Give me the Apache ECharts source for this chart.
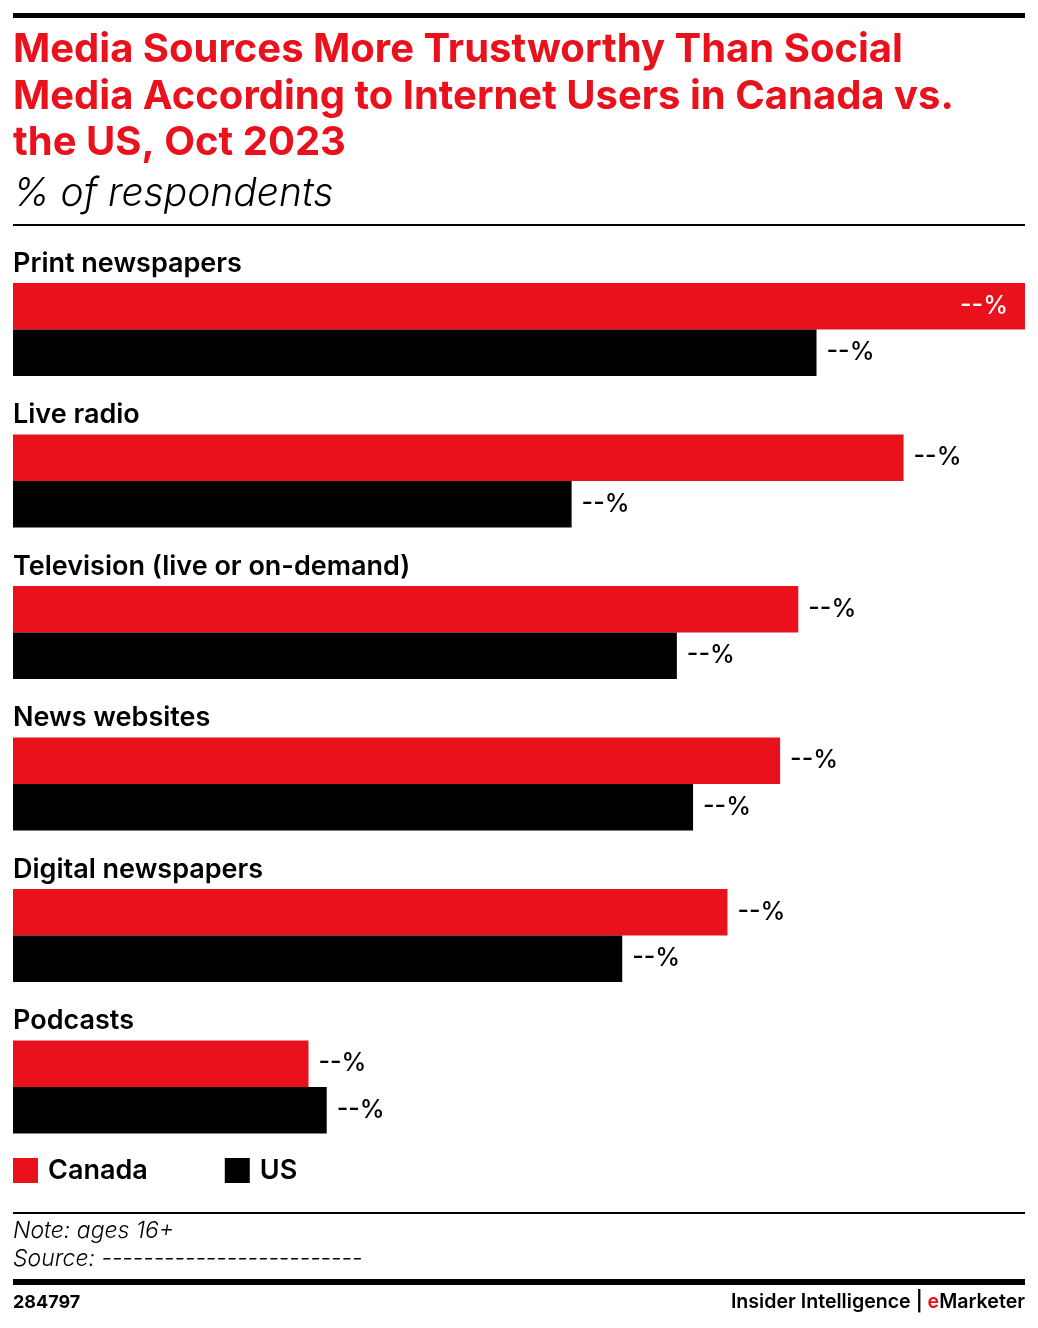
<!DOCTYPE html>
<html>
<head>
<meta charset="utf-8">
<script src="https://cdn.jsdelivr.net/npm/echarts@6/dist/echarts.min.js"></script>
<style>
html,body{margin:0;padding:0;background:#fff;}
#chart{width:1038px;height:1328px;}
</style>
</head>
<body>
<div id="chart"></div>
<script>
// Data (values unreadable in the source: labels show "--%")
const categories = ['Print newspapers','Live radio','Television (live or on-demand)','News websites','Digital newspapers','Podcasts'];
const canadaValues = [50.0, 44.0, 38.8, 37.9, 35.3, 14.6];
const usValues = [39.7, 27.6, 32.8, 33.6, 30.1, 15.5];
const seriesNames = ['Canada','US'];
const valueLabel = '--%';

const RED = '#e8111c';
const FONT = 'Inter, "Noto Sans", sans-serif';

const chart = echarts.init(document.getElementById('chart'), null, {renderer:'canvas'});

const canadaData = canadaValues.map((v,i) => i === 0 ? {
  value: v,
  label: {position:'insideRight', color:'#fff', distance: 17}
} : v);

chart.setOption({
  animation: false,
  backgroundColor: '#fff',
  title: [{
    text: 'Media Sources More Trustworthy Than Social\nMedia According to Internet Users in Canada vs.\nthe US, Oct 2023',
    left: 13, top: 27, padding: 0,
    textStyle: {color: RED, fontFamily: FONT, fontWeight: 'bold', fontSize: 40, lineHeight: 46.5}
  },{
    text: '% of respondents',
    left: 13, top: 173, padding: 0,
    textStyle: {color: '#000', fontFamily: FONT, fontStyle: 'italic', fontWeight: 300, fontSize: 39, lineHeight: 42}
  }],
  legend: {
    left: 13, top: 1157, padding: 0,
    itemWidth: 25, itemHeight: 25, itemGap: 77,
    icon: 'rect',
    textStyle: {fontFamily: FONT, fontSize: 27, fontWeight: 600, color: '#000', padding:[0,0,0,5]},
    data: seriesNames
  },
  grid: {left: 13, right: 13, top: 253.75, bottom: 165.25, containLabel: false},
  xAxis: {type: 'value', min: 0, max: 50, show: false},
  yAxis: {
    type: 'category', inverse: true, data: categories,
    axisLine: {show: false}, axisTick: {show: false}, splitLine: {show: false},
    axisLabel: {
      inside: true, margin: 0, align: 'left', verticalAlign: 'bottom',
      padding: [0,0,51,0], lineHeight: 30,
      fontFamily: FONT, fontSize: 27, fontWeight: 600, color: '#000'
    }
  },
  series: [{
    name: seriesNames[0], type: 'bar', data: canadaData,
    barWidth: 46.5, barGap: '0%', barCategoryGap: '0%',
    itemStyle: {color: RED},
    label: {show: true, position: 'right', distance: 10, formatter: valueLabel,
      fontFamily: FONT, fontSize: 25, fontWeight: 500, color: '#000'}
  },{
    name: seriesNames[1], type: 'bar', data: usValues,
    barWidth: 46.5, barGap: '0%',
    itemStyle: {color: '#000'},
    label: {show: true, position: 'right', distance: 10, formatter: valueLabel,
      fontFamily: FONT, fontSize: 25, fontWeight: 500, color: '#000'}
  }],
  graphic: [
    {type:'rect', shape:{x:13, y:13, width:1012, height:5}, style:{fill:'#000'}},
    {type:'rect', shape:{x:13, y:224, width:1012, height:2}, style:{fill:'#000'}},
    {type:'rect', shape:{x:13, y:1212, width:1012, height:2}, style:{fill:'#000'}},
    {type:'rect', shape:{x:13, y:1279, width:1012, height:6}, style:{fill:'#000'}},
    {type:'text', left:13, top:1220, style:{text:'Note: ages 16+', font:'italic 300 23px ' + FONT, fill:'#000'}},
    {type:'text', left:13, top:1248, style:{text:'Source: -------------------------', font:'italic 300 23px ' + FONT, fill:'#000'}},
    {type:'text', left:13, top:1294, style:{text:'284797', font:'bold 18px ' + FONT, fill:'#000'}},
    {type:'text', right:13, top:1292, style:{
      text:'{a|Insider Intelligence | }{b|e}{a|Marketer}',
      rich:{
        a:{fontFamily:FONT, fontWeight:600, fontSize:19.6, fill:'#000', color:'#000'},
        b:{fontFamily:FONT, fontWeight:600, fontSize:19.6, fill:RED, color:RED}
      }
    }}
  ]
});
</script>
</body>
</html>
